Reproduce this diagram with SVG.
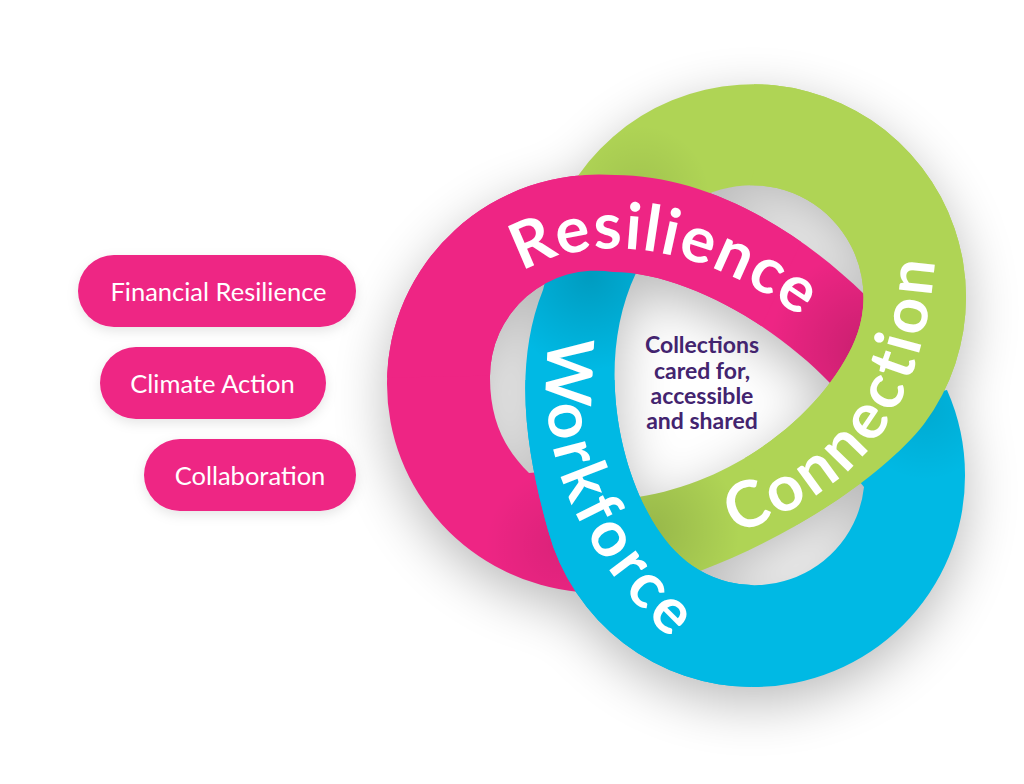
<svg xmlns="http://www.w3.org/2000/svg" width="1024" height="784" viewBox="0 0 1024 784">
  <style>
    .pink { fill: #EE2584; }
    .green { fill: #AFD455; }
    .blue { fill: #00B9E4; }
    text { font-family: Lato, "Open Sans", sans-serif; }
    .pill { filter: url(#pillShadow); }
    .pill-label { font-size: 25.5px; fill: #fff; text-anchor: middle; }
    .band-label { font-size: 64px; font-weight: 700; fill: #fff; font-variant-ligatures: none; }
    .centre { font-size: 23px; font-weight: 700; fill: #43246F; text-anchor: middle; }
  </style>
  <defs>
    <filter id="ringShadow" x="-20%" y="-20%" width="140%" height="150%"><feGaussianBlur stdDeviation="27"/></filter>
    <filter id="pillShadow" x="-15%" y="-30%" width="130%" height="170%">
      <feDropShadow dx="0" dy="4" stdDeviation="6" flood-color="#000" flood-opacity="0.1"/>
    </filter>
    <radialGradient id="shade"><stop offset="0" stop-color="#000" stop-opacity="0.16"/><stop offset="1" stop-color="#000" stop-opacity="0"/></radialGradient>

    <!-- Full ring outlines; both ends run on under the neighbouring bands -->
    <path id="pinkRing" d="M865 295C790 222 700 175 615 175A212 209 0 0 0 387 383.500A212 209 0 0 0 579 592L610 585L565 470L529 473C505 450 490 420 490 378A106 106 0 0 1 613 272C680 272 770 320 832 385L860 400L885 320Z"/>
    <path id="greenRing" d="M600 215L569 190A213 213 0 0 1 966 297A213 213 0 0 1 924 424C885 474 795 535 700 571L680 578L600 505L638 497C745 480 828 405 855 340A112 112 0 0 0 713 192L680 205Z"/>
    <path id="blueRing" d="M543 290C510 372 530 465 548 530A212 211 0 0 0 753 687A212 211 0 0 0 965 476A212 211 0 0 0 947 390L925 395L850 470L864 487A110 110 0 0 1 675 551C625 500 590 370 636 273L640 250L550 262Z"/>

    <clipPath id="clipPink"><use href="#pinkRing"/></clipPath>
    <clipPath id="clipGreen"><use href="#greenRing"/></clipPath>
    <clipPath id="clipBlue"><use href="#blueRing"/></clipPath>

    <!-- Regions of each ring that lie on top of its neighbours -->
    <clipPath id="overPink"><polygon points="370,378 740,371 826,190 600,130 370,130"/></clipPath>
    <clipPath id="overGreen"><polygon points="754,60 1000,60 1000,600 830,567 700,400 754,170"/></clipPath>
    <clipPath id="overBlue"><polygon points="500,380 630,380 751,570 751,700 500,700"/></clipPath>

    <!-- Baselines for the curved band lettering -->
    <path id="arcResilience" d="M522 272C590 232 700 238 815 328"/>
    <path id="arcConnection" d="M735 534C838 495 925 440 936 245"/>
    <path id="arcWorkforce" d="M550 338C535 430 560 550 700 665"/>
  </defs>

  <rect width="1024" height="784" fill="#fff"/>

  <!-- Soft shadow cast by the three rings -->
  <g id="ring-shadows" filter="url(#ringShadow)" opacity="0.27" transform="translate(0 16)">
    <use href="#pinkRing"/>
    <use href="#greenRing"/>
    <use href="#blueRing"/>
  </g>

  <!-- Under-layer: complete rings with darkened ends where they pass beneath a neighbour -->
  <g id="ring-ends">
    <use href="#pinkRing" class="pink"/>
    <g clip-path="url(#clipPink)">
      <circle cx="868" cy="350" r="100" fill="url(#shade)"/>
      <circle cx="560" cy="545" r="75" fill="url(#shade)" opacity="0.5"/>
    </g>
    <use href="#greenRing" class="green"/>
    <g clip-path="url(#clipGreen)">
      <circle cx="650" cy="530" r="90" fill="url(#shade)" opacity="0.85"/>
      <circle cx="640" cy="195" r="70" fill="url(#shade)" opacity="0.5"/>
    </g>
    <use href="#blueRing" class="blue"/>
    <g clip-path="url(#clipBlue)">
      <circle cx="590" cy="275" r="95" fill="url(#shade)"/>
      <circle cx="925" cy="410" r="70" fill="url(#shade)" opacity="0.5"/>
    </g>
  </g>

  <!-- Upper-layer: the stretch of each ring that passes over its neighbours -->
  <g id="ring-resilience">
    <use href="#pinkRing" class="pink" clip-path="url(#overPink)"/>
    <text class="band-label" letter-spacing="1.5"><textPath href="#arcResilience">Resilience</textPath></text>
  </g>
  <g id="ring-connection">
    <use href="#greenRing" class="green" clip-path="url(#overGreen)"/>
    <text class="band-label" letter-spacing="3.8"><textPath href="#arcConnection">Connection</textPath></text>
  </g>
  <g id="ring-workforce">
    <use href="#blueRing" class="blue" clip-path="url(#overBlue)"/>
    <text class="band-label" letter-spacing="4.2"><textPath href="#arcWorkforce">Workforce</textPath></text>
  </g>

  <g id="centre-label">
    <text class="centre" x="702" y="353">Collections</text>
    <text class="centre" x="702" y="379">cared for,</text>
    <text class="centre" x="702" y="404">accessible</text>
    <text class="centre" x="702" y="429">and shared</text>
  </g>

  <g id="pill-financial">
    <rect class="pink pill" x="78" y="255" width="278" height="72" rx="36"/>
    <text class="pill-label" x="218.500" y="301">Financial Resilience</text>
  </g>
  <g id="pill-climate">
    <rect class="pink pill" x="100" y="347" width="226" height="72" rx="36"/>
    <text class="pill-label" x="212.500" y="393">Climate Action</text>
  </g>
  <g id="pill-collaboration">
    <rect class="pink pill" x="144" y="439" width="212" height="72" rx="36"/>
    <text class="pill-label" x="250" y="485">Collaboration</text>
  </g>
</svg>
